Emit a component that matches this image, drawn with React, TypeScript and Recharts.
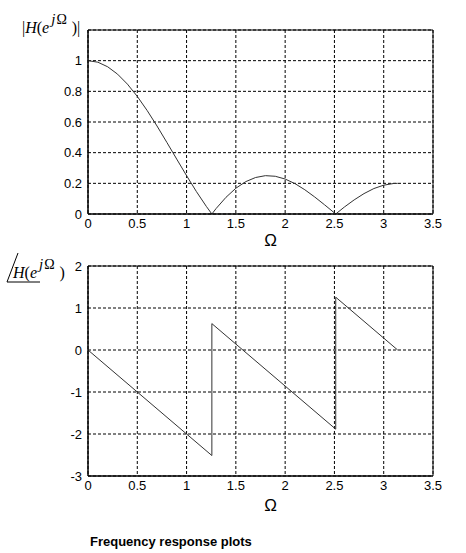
import React from 'react';
import { LineChart, Line, XAxis, YAxis, CartesianGrid, ReferenceArea } from 'recharts';

const omegaMag = [0, 0.1, 0.2, 0.3, 0.4, 0.5, 0.6, 0.7, 0.8, 0.9, 1.0, 1.1, 1.2, 1.2566, 1.3, 1.4, 1.5, 1.6, 1.7, 1.8, 1.9, 2.0, 2.1, 2.2, 2.3, 2.4, 2.5, 2.5133, 2.6, 2.7, 2.8, 2.9, 3.0, 3.1, 3.1416];
const magValues = [1, 0.99, 0.96, 0.912, 0.847, 0.767, 0.675, 0.574, 0.467, 0.358, 0.25, 0.146, 0.05, 0, 0.036, 0.109, 0.168, 0.211, 0.238, 0.25, 0.246, 0.228, 0.198, 0.158, 0.111, 0.06, 0.007, 0, 0.045, 0.092, 0.133, 0.166, 0.188, 0.199, 0.2];

const omegaPhase = [0, 1.2566, 1.2566, 2.5133, 2.5133, 3.1416];
const phaseValues = [0, -2.513, 0.628, -1.885, 1.257, 0];

const xTicks = [0, 0.5, 1, 1.5, 2, 2.5, 3, 3.5];
const magTicks = [0, 0.2, 0.4, 0.6, 0.8, 1];
const phaseTicks = [-3, -2, -1, 0, 1, 2];

const magData = omegaMag.map((w, i) => ({ w, v: magValues[i] }));
const phaseData = omegaPhase.map((w, i) => ({ w, v: phaseValues[i] }));

const tickStyle = { fontFamily: 'Liberation Sans, Arial, sans-serif', fontSize: 13, fill: '#000' };

const omegaLabel = (dy: number) => (props: any) => {
  const vb = props.viewBox || {};
  return (
    <text
      x={vb.x + vb.width / 2 + 10}
      y={vb.y + dy}
      textAnchor="middle"
      dominantBaseline="central"
      style={{ fontFamily: 'Liberation Sans, Arial, sans-serif', fontSize: 17, fill: '#000' }}
    >
      Ω
    </text>
  );
};

export default function App() {
  const serif = 'Liberation Serif, Times New Roman, serif';
  return (
    <div style={{ position: 'absolute', left: 0, top: 0, width: 466, height: 553, background: '#fff' }}>
      <div style={{ position: 'absolute', left: 0, top: 0 }}>
        <LineChart width={466} height={256} data={magData} margin={{ top: 30, right: 33, bottom: 6, left: 0 }}>
          <CartesianGrid stroke="#000" strokeDasharray="3 2" />
          <XAxis
            dataKey="w"
            type="number"
            domain={[0, 3.5]}
            ticks={xTicks}
            height={36}
            tickLine={false}
            tickSize={0}
            tickMargin={5}
            axisLine={{ stroke: '#000' }}
            tick={tickStyle}
            interval={0}
            label={{ content: omegaLabel(26) } as any}
          />
          <YAxis
            type="number"
            domain={[0, 1.2]}
            ticks={magTicks}
            width={88}
            tickLine={false}
            tickSize={0}
            tickMargin={6}
            axisLine={{ stroke: '#000' }}
            tick={tickStyle}
            interval={0}
          />
          <ReferenceArea x1={0} x2={3.5} y1={0} y2={1.2} fill="none" stroke="#000" strokeWidth={1} />
          <Line type="linear" dataKey="v" stroke="#333" strokeWidth={1} dot={false} isAnimationActive={false} />
        </LineChart>
      </div>
      <div style={{ position: 'absolute', left: 0, top: 240 }}>
        <LineChart width={466} height={284} data={phaseData} margin={{ top: 26, right: 33, bottom: 12, left: 0 }}>
          <CartesianGrid stroke="#000" strokeDasharray="3 2" />
          <XAxis
            dataKey="w"
            type="number"
            domain={[0, 3.5]}
            ticks={xTicks}
            height={36}
            tickLine={false}
            tickSize={0}
            tickMargin={5}
            axisLine={{ stroke: '#000' }}
            tick={tickStyle}
            interval={0}
            label={{ content: omegaLabel(29) } as any}
          />
          <YAxis
            type="number"
            domain={[-3, 2]}
            ticks={phaseTicks}
            width={88}
            tickLine={false}
            tickSize={0}
            tickMargin={6}
            axisLine={{ stroke: '#000' }}
            tick={tickStyle}
            interval={0}
          />
          <ReferenceArea x1={0} x2={3.5} y1={-3} y2={2} fill="none" stroke="#000" strokeWidth={1} />
          <Line type="linear" dataKey="v" stroke="#333" strokeWidth={1} dot={false} isAnimationActive={false} />
        </LineChart>
      </div>
      <svg width={466} height={553} style={{ position: 'absolute', left: 0, top: 0, pointerEvents: 'none' }}>
        <text x={22} y={33} style={{ fontFamily: serif, fontSize: 16, fill: '#000' }}>
          <tspan>|</tspan>
          <tspan fontStyle="italic">H</tspan>
          <tspan>(</tspan>
          <tspan fontStyle="italic">e</tspan>
          <tspan fontStyle="italic" fontSize={15} dx={2} dy={-9}>j</tspan>
          <tspan fontSize={14} dx={1}>Ω</tspan>
          <tspan dx={5} dy={9}>)|</tspan>
        </text>
        <line x1={7} y1={282} x2={18} y2={253} stroke="#000" strokeWidth={1} />
        <line x1={7} y1={282} x2={40} y2={282} stroke="#000" strokeWidth={1} />
        <text x={13} y={278} style={{ fontFamily: serif, fontSize: 16, fill: '#000' }}>
          <tspan fontStyle="italic">H</tspan>
          <tspan>(</tspan>
          <tspan fontStyle="italic">e</tspan>
          <tspan fontStyle="italic" fontSize={15} dx={2} dy={-9}>j</tspan>
          <tspan fontSize={14} dx={1}>Ω</tspan>
          <tspan dx={5} dy={9}>)</tspan>
        </text>
      </svg>
      <div
        style={{
          position: 'absolute',
          left: 90,
          top: 534,
          fontFamily: 'Liberation Sans, Arial, sans-serif',
          fontWeight: 'bold',
          fontSize: 13,
          color: '#000',
          whiteSpace: 'nowrap',
        }}
      >
        Frequency response plots
      </div>
    </div>
  );
}
